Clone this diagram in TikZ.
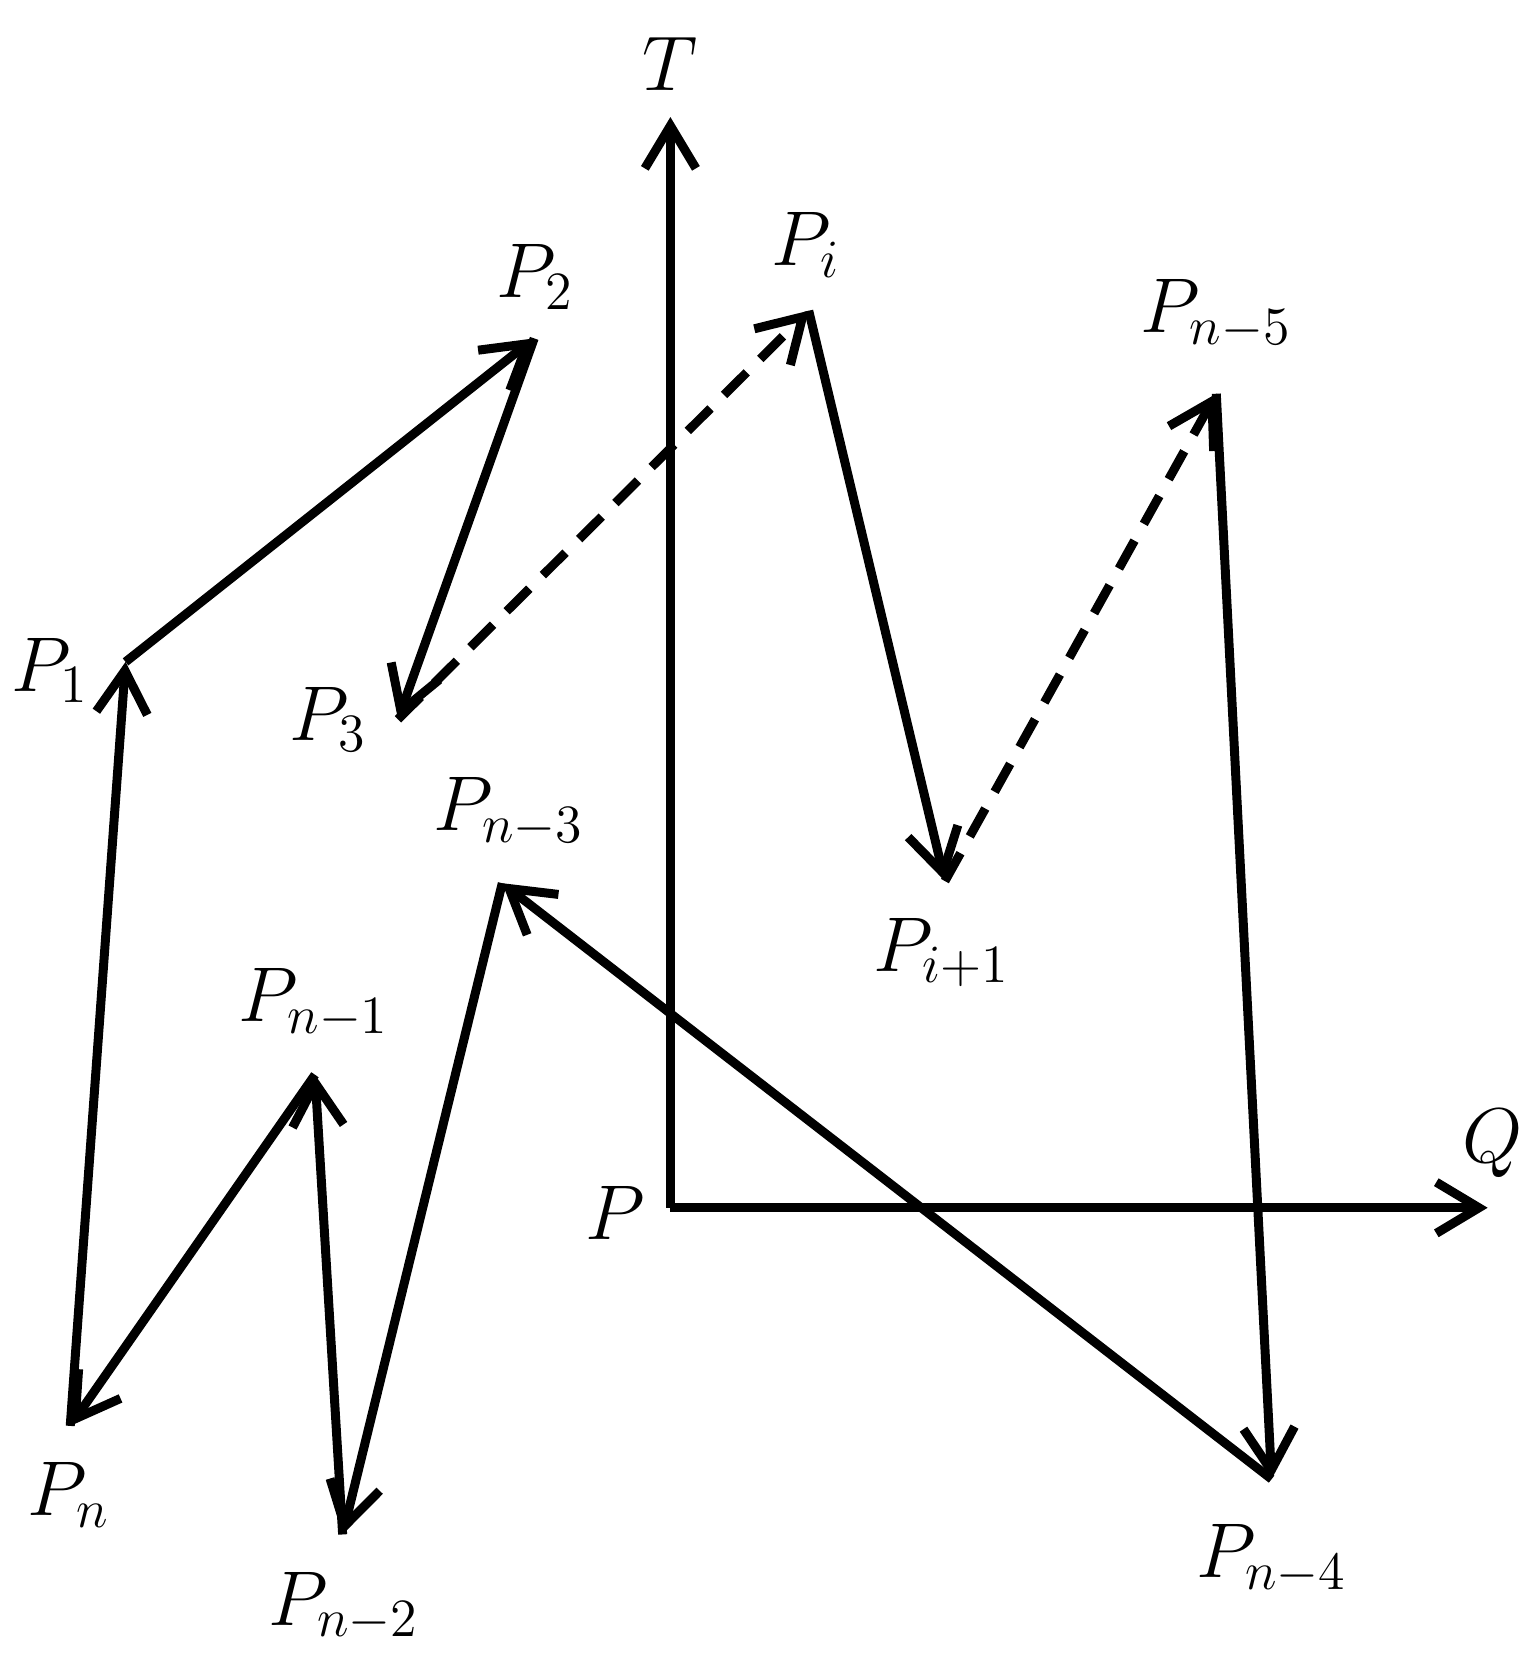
\documentclass[tikz,border=0pt]{standalone}
\usetikzlibrary{arrows.meta}
\begin{document}
\begin{tikzpicture}[x=0.01cm,y=-0.01cm,
  seg/.style={line width=2.4pt,-{Straight Barb[length=4mm,width=4.8mm,line width=2.4pt]}},
  dsh/.style={seg,dash pattern=on 3mm off 1.8mm},
  lab/.style={font=\fontsize{21}{25}\selectfont}]
\useasboundingbox (0,0) rectangle (1440,1560);
\coordinate (p1) at (118,622);
\coordinate (p2) at (502,318);
\coordinate (p3) at (374,676);
\coordinate (pi) at (760,292);
\coordinate (pi1) at (888,828);
\coordinate (pn5) at (1143,370);
\coordinate (pn4) at (1195,1390);
\coordinate (pn3) at (472,830);
\coordinate (pn2) at (322,1442);
\coordinate (pn1) at (296,1010);
\coordinate (pn) at (66,1340);
\coordinate (o) at (630,1135);
\coordinate (t) at (630,110);
\coordinate (q) at (1398,1135);
\draw[seg] (o) -- (t);
\draw[seg] (o) -- (q);
\draw[seg] (pn) -- (p1);
\draw[seg] (p1) -- (p2);
\draw[seg] (p2) -- (p3);
\draw[dsh] (p3) -- (pi);
\draw[seg] (pi) -- (pi1);
\draw[dsh] (pi1) -- (pn5);
\draw[seg] (pn5) -- (pn4);
\draw[seg] (pn4) -- (pn3);
\draw[seg] (pn3) -- (pn2);
\draw[seg] (pn2) -- (pn1);
\draw[seg] (pn1) -- (pn);
\node[lab] (lT) at (630,60) {$T$};
\node[lab] (lQ) at (1403,1075) {$Q$};
\node[lab] (lP) at (578,1140) {$P$};
\node[lab] (l1) at (47,630) {$P_1$};
\node[lab] (l2) at (503,260) {$P_2$};
\node[lab] (l3) at (308,676) {$P_3$};
\node[lab] (li) at (757,230) {$P_i$};
\node[lab] (li1) at (885,895) {$P_{i+1}$};
\node[lab] (l5) at (1143,295) {$P_{n-5}$};
\node[lab] (l4) at (1195,1465) {$P_{n-4}$};
\node[lab] (l3n) at (478,763) {$P_{n-3}$};
\node[lab] (l2n) at (323,1510) {$P_{n-2}$};
\node[lab] (l1n) at (295,943) {$P_{n-1}$};
\node[lab] (ln) at (65,1405) {$P_n$};
\end{tikzpicture}
\end{document}
